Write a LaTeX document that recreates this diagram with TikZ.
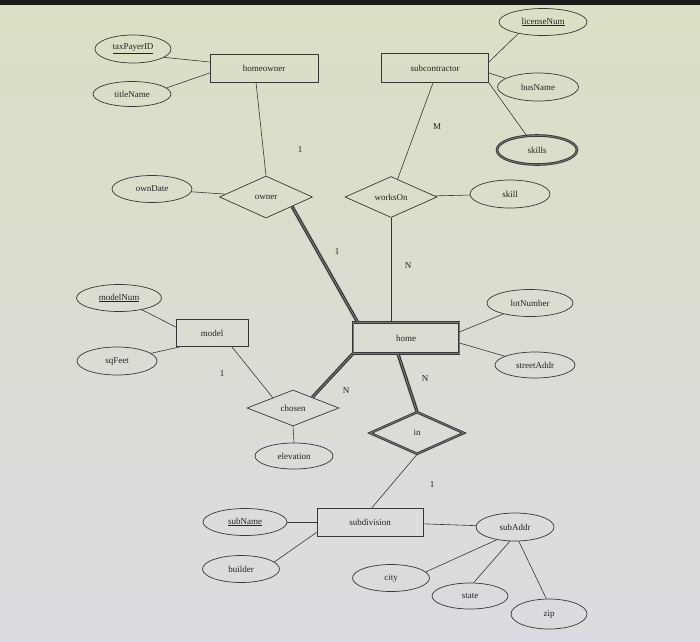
\documentclass[tikz,border=0pt]{standalone}
\usepackage{fontspec}
\setmainfont{Liberation Serif}
\usetikzlibrary{shapes.geometric,calc}
\definecolor{bgtop}{RGB}{219,223,195}
\definecolor{bgmid}{RGB}{225,226,214}
\definecolor{bgbot}{RGB}{221,218,225}
\definecolor{ink}{RGB}{55,55,55}
\definecolor{txt}{RGB}{35,35,35}
\definecolor{dbl}{RGB}{120,120,120}
\begin{document}
\begin{tikzpicture}[x=1pt,y=-1pt,
  every node/.style={font=\fontsize{9}{10}\selectfont, text=txt, inner sep=0pt},
  attr/.style={draw=ink, line width=0.7pt, ellipse},
  ent/.style={draw=ink, line width=0.8pt, rectangle},
  rel/.style={draw=ink, line width=0.7pt, diamond},
  conn/.style={draw=ink, line width=0.6pt},
  tot/.style={draw=ink, line width=1.2pt, double=dbl, double distance=0.9pt},
  dblborder/.style={line width=0.9pt, double=dbl, double distance=0.8pt},
  card/.style={font=\fontsize{9}{10}\selectfont}]
\useasboundingbox (0,0) rectangle (700,641);
\shade[top color=bgtop, middle color=bgmid, bottom color=bgbot] (0,0) rectangle (700,641);
\fill[black!90] (0,0) rectangle (700,5);

% entities
\node[ent, minimum width=108pt, minimum height=28pt] (homeowner) at (264,68) {homeowner};
\node[ent, minimum width=107pt, minimum height=29pt] (subcontractor) at (435,68) {subcontractor};
\node[ent, dblborder, minimum width=106pt, minimum height=31pt] (home) at (406,338) {home};
\node[ent, minimum width=72pt, minimum height=27pt] (model) at (212,333) {model};
\node[ent, minimum width=106pt, minimum height=28pt] (subdivision) at (370,522) {subdivision};

% relationships
\node[rel, minimum width=93pt, minimum height=42pt] (owner) at (266,197) {owner};
\node[rel, minimum width=92pt, minimum height=41pt] (worksOn) at (391,197) {worksOn};
\node[rel, minimum width=92pt, minimum height=36pt] (chosen) at (293,408) {chosen};
\node[rel, dblborder, minimum width=94pt, minimum height=42pt] (in) at (417,433) {in};

% attributes
\node[attr, minimum width=76pt, minimum height=28pt] (taxPayerID) at (133,49) {\underline{taxPayerID}};
\node[attr, minimum width=78pt, minimum height=25pt] (titleName) at (132,94) {titleName};
\node[attr, minimum width=88pt, minimum height=27pt] (licenseNum) at (543,22) {\underline{licenseNum}};
\node[attr, minimum width=81pt, minimum height=28pt] (busName) at (538,87) {busName};
\node[attr, dblborder, minimum width=80pt, minimum height=29pt] (skills) at (537,150) {skills};
\node[attr, minimum width=80pt, minimum height=28pt] (skill) at (510,194) {skill};
\node[attr, minimum width=80pt, minimum height=27pt] (ownDate) at (152,189) {ownDate};
\node[attr, minimum width=86pt, minimum height=27pt] (lotNumber) at (530,303) {lotNumber};
\node[attr, minimum width=80pt, minimum height=26pt] (streetAddr) at (535,365) {streetAddr};
\node[attr, minimum width=85pt, minimum height=27pt] (modelNum) at (119,298) {\underline{modelNum}};
\node[attr, minimum width=80pt, minimum height=28pt] (sqFeet) at (117,361) {sqFeet};
\node[attr, minimum width=78pt, minimum height=26pt] (elevation) at (294,456) {elevation};
\node[attr, minimum width=84pt, minimum height=27pt] (subName) at (245,522) {\underline{subName}};
\node[attr, minimum width=77pt, minimum height=27pt] (builder) at (241,569) {builder};
\node[attr, minimum width=78pt, minimum height=28pt] (subAddr) at (515,527) {subAddr};
\node[attr, minimum width=77pt, minimum height=27pt] (city) at (391,578) {city};
\node[attr, minimum width=76pt, minimum height=26pt] (state) at (470,596) {state};
\node[attr, minimum width=76pt, minimum height=30pt] (zip) at (549,614) {zip};

% cardinality labels
\node[card] (c1) at (300,150) {1};
\node[card] (cM) at (437,127) {M};
\node[card] (c2) at (337,252) {1};
\node[card] (cN1) at (408,266) {N};
\node[card] (c3) at (222,374) {1};
\node[card] (cN2) at (346,391) {N};
\node[card] (cN3) at (425,379) {N};
\node[card] (c4) at (432,485) {1};

% connectors
\draw[conn] (taxPayerID.-15) -- ([yshift=6pt]homeowner.west);
\draw[conn] (titleName.10) -- ([yshift=-5pt]homeowner.west);
\draw[conn] ([xshift=-8pt]homeowner.south) -- (owner.north);
\draw[conn] ([xshift=-2pt]subcontractor.south) -- (worksOn);
\draw[conn] ([yshift=6pt]subcontractor.east) -- (licenseNum.-155);
\draw[conn] ([yshift=-5pt]subcontractor.east) -- (busName.165);
\draw[conn] (subcontractor.south east) -- (skills);
\draw[conn] (ownDate) -- (owner);
\draw[conn] (worksOn) -- (skill);
\draw[tot] (owner.-20) -- ([xshift=5pt]home.north west);
\draw[conn] (worksOn.south) -- (worksOn.south |- home.north);
\draw[conn] ([yshift=6pt]home.east) -- (lotNumber);
\draw[conn] ([yshift=-5pt]home.east) -- (streetAddr);
\draw[conn] (modelNum) -- ([yshift=6pt]model.west);
\draw[conn] (sqFeet) -- ([xshift=4pt]model.south west);
\draw[conn] ([xshift=20pt]model.south) -- (chosen.153);
\draw[tot] (home.south west) -- (chosen.29);
\draw[tot] ([xshift=-8pt]home.south) -- (in.north);
\draw[conn] (in.south) -- ([xshift=2pt]subdivision.north);
\draw[conn] (chosen.south) -- (elevation.north);
\draw[conn] (subName) -- (subdivision);
\draw[conn] (builder.12) -- ([yshift=4pt]subdivision.south west);
\draw[conn] (subdivision) -- (subAddr);
\draw[conn] (subAddr.-145) -- (city.10);
\draw[conn] (subAddr.-110) -- (state.75);
\draw[conn] (subAddr.-75) -- (zip.100);
\end{tikzpicture}
\end{document}
